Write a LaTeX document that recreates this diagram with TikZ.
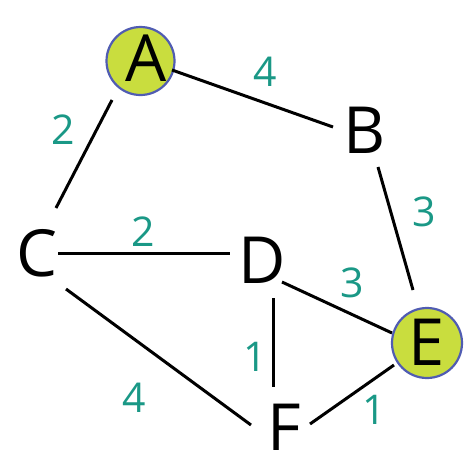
\documentclass[tikz,border=0pt]{standalone}
\usepackage{fontspec}
\setmainfont{Open Sans}
\definecolor{wt}{RGB}{26,152,134}
\definecolor{hl}{RGB}{201,221,62}
\definecolor{rim}{RGB}{80,92,178}
\begin{document}
\begin{tikzpicture}[x=1pt,y=-1pt,
  letter/.style={inner sep=0pt,font=\fontsize{65}{65}\selectfont},
  hinode/.style={circle,fill=hl,draw=rim,line width=2.2pt,inner sep=0pt,minimum size=#1},
  weight/.style={inner sep=0pt,text=wt,font=\fontsize{41}{41}\selectfont},
  edge/.style={line width=3pt,black}]
\useasboundingbox (0,0) rectangle (474,459);
% highlighted circles
\node[hinode=68pt] (A) at (140.5,61) {};
\node[hinode=70pt] (E) at (427,343) {};
% letters
\node[letter] (Alab) at (146.5,58.5) {A};
\node[letter] (B) at (365,130) {B};
\node[letter] (C) at (37,253) {C};
\node[letter] (D) at (262,260) {D};
\node[letter] (Elab) at (427,342) {E};
\node[letter] (F) at (284,427) {F};
% edges
\draw[edge] ([shift={(31.5,9)}]A.center) -- ([shift={(-32,-3)}]B.center);
\draw[edge] ([shift={(-28.5,39)}]A.center) -- ([shift={(19,-45)}]C.center);
\draw[edge] ([shift={(13,37)}]B.center) -- ([shift={(-14,-53)}]E.center);
\draw[edge] ([shift={(21,0)}]C.center) -- ([shift={(-32,-7)}]D.center);
\draw[edge] ([shift={(29,36)}]C.center) -- ([shift={(-33,-2)}]F.center);
\draw[edge] ([shift={(20,22)}]D.center) -- ([shift={(-35,-10)}]E.center);
\draw[edge] ([shift={(11,38)}]D.center) -- ([shift={(-11,-40)}]F.center);
\draw[edge] ([shift={(26,-3)}]F.center) -- ([shift={(-33,22)}]E.center);
% weights
\node[weight] (wAB) at (265,72) {4};
\node[weight] (wAC) at (63,130) {2};
\node[weight] (wBE) at (424,212) {3};
\node[weight] (wCD) at (143,232) {2};
\node[weight] (wDE) at (352,283) {3};
\node[weight] (wDF) at (255,357) {1};
\node[weight] (wCF) at (134,398) {4};
\node[weight] (wFE) at (374,410) {1};
\end{tikzpicture}
\end{document}
